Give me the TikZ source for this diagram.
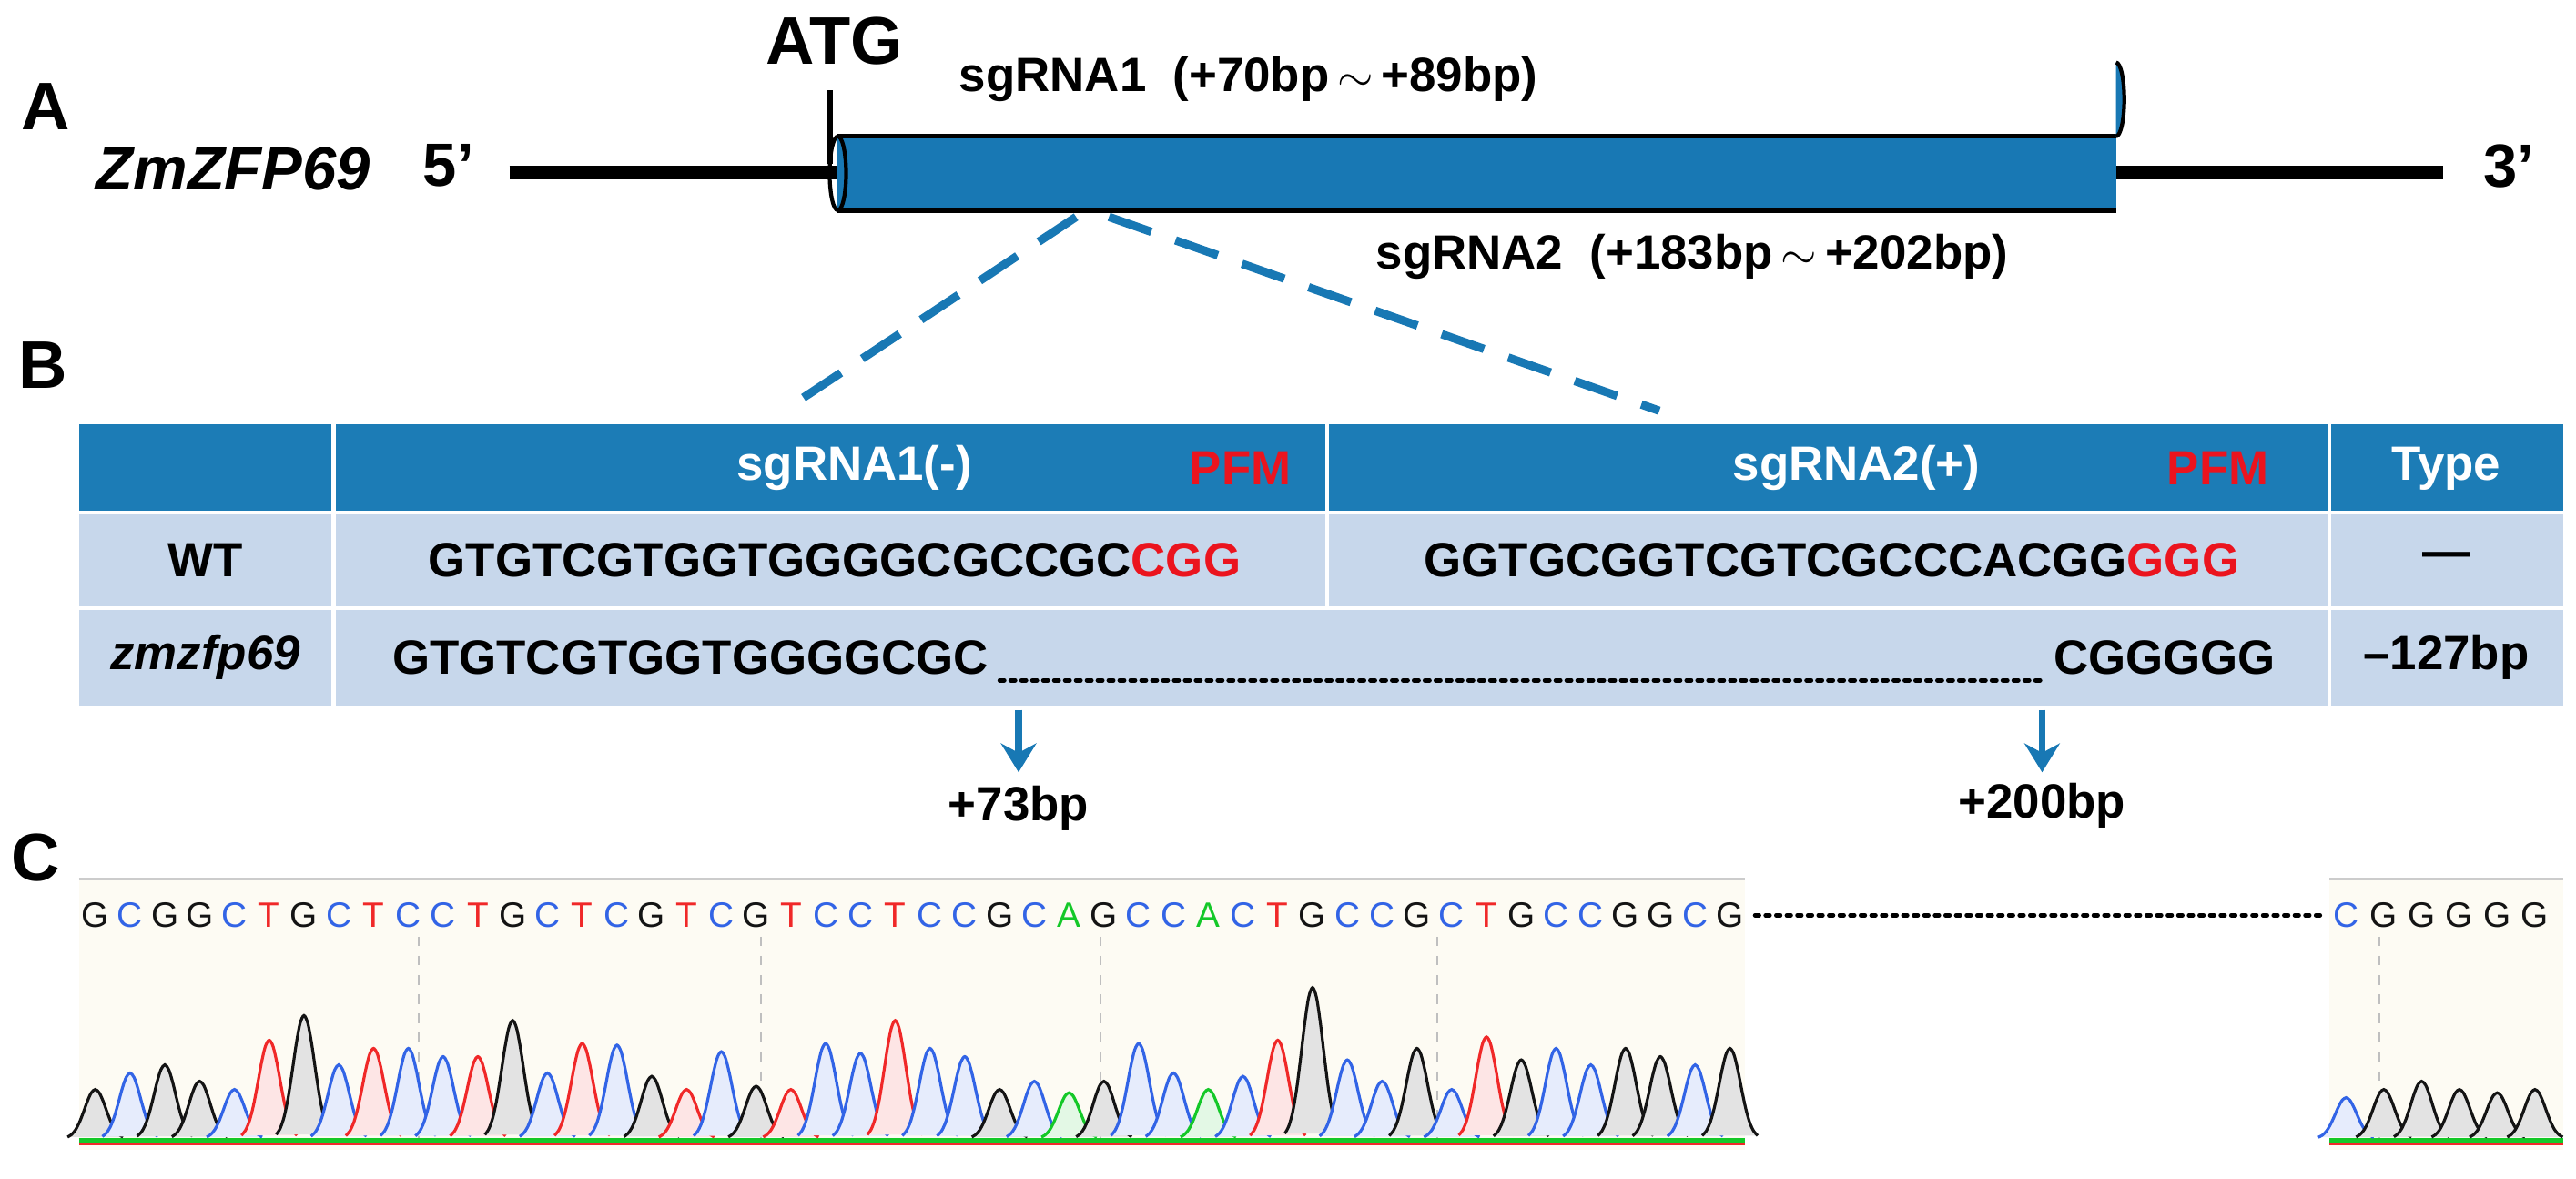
\documentclass[tikz,border=0pt]{standalone}
\usepackage{fontspec}
\usetikzlibrary{arrows.meta}
\setmainfont{Liberation Sans}
\begin{document}
\begin{tikzpicture}[x=0.018cm,y=-0.018cm,
  lbl/.style={font=\fontsize{21}{24}\selectfont\bfseries},
  tx/.style={font=\fontsize{15}{18}\selectfont\bfseries},
  hd/.style={font=\fontsize{15}{18}\selectfont\bfseries,text=white},
  dsh/.style={draw=cblue,line width=2.6pt,dash pattern=on 14pt off 8pt},
  arr/.style={draw=cblue,line width=2.2pt,-{Stealth[length=9pt,width=11pt]}},
  bl/.style={font=\fontsize{11}{12}\selectfont}]
\definecolor{cblue}{RGB}{24,120,180}
\definecolor{hdr}{RGB}{28,124,182}
\definecolor{rowc}{RGB}{199,215,235}
\definecolor{pfm}{RGB}{235,20,30}
\definecolor{cream}{RGB}{253,251,243}
\definecolor{bC}{RGB}{50,100,230}
\definecolor{bT}{RGB}{240,40,40}
\definecolor{bG}{RGB}{20,20,20}
\definecolor{bA}{RGB}{20,200,40}
\useasboundingbox (0,0) rectangle (1568,717.5);
% Panel A
\node[lbl] (A) at (28,65) {A};
\node[lbl,font=\fontsize{19}{22}\selectfont\bfseries\itshape] (gene) at (142,103) {ZmZFP69};
\node[lbl,font=\fontsize{19}{22}\selectfont\bfseries] (p5) at (273,101) {5'};
\node[lbl,font=\fontsize{19}{22}\selectfont\bfseries] (p3) at (1527,101) {3'};
\coordinate (L0) at (310,105); \coordinate (L1) at (1487,105);
\draw[line width=4pt] (L0) -- (L1);
\fill[cblue] (510,83) rectangle (1288,128);
\draw[line width=1.5pt] (510,83) -- (1288,83) (510,128) -- (1288,128);
\draw[line width=1.2pt,fill=cblue] (1288,83) arc[start angle=90,end angle=-90,x radius=5,y radius=22.5];
\draw[line width=1.2pt] (510,105.5) ellipse[x radius=5,y radius=22.5];
\draw[line width=2pt] (505,55) -- (505,100);
\node[lbl] (atg) at (508,25) {ATG};
\node[tx] (s1) at (760,48) {sgRNA1\ \ (+70bp\,$\sim$\,+89bp)};
\node[tx] (s2) at (1030,156) {sgRNA2\ \ (+183bp\,$\sim$\,+202bp)};
\coordinate (d1) at (655,132); \coordinate (d2) at (675,132);
\coordinate (e1) at (480,248); \coordinate (e2) at (1010,250);
\draw[dsh] (d1) -- (e1); \draw[dsh] (d2) -- (e2);
% Panel B
\node[lbl] (B) at (26,222) {B};
\fill[hdr] (48,258) rectangle (1560,312);
\fill[rowc] (48,312) rectangle (1560,430);
\draw[white,line width=1.2pt] (48,312) -- (1560,312) (48,370) -- (1560,370);
\draw[white,line width=1.2pt] (203,258) -- (203,430) (1418,258) -- (1418,430) (808,258) -- (808,370);
\node[hd] (h1) at (520,285) {sgRNA1(-)};
\node[hd,text=pfm] (pf1) at (755,285) {PFM};
\node[hd] (h2) at (1130,285) {sgRNA2(+)};
\node[hd,text=pfm] (pf2) at (1350,285) {PFM};
\node[hd] (h3) at (1489,285) {Type};
\node[tx] (wt) at (125,341) {WT};
\node[tx] (q1) at (508,341) {GTGTCGTGGTGGGGCGCCGC\textcolor{pfm}{CGG}};
\node[tx] (q2) at (1115,341) {GGTGCGGTCGTCGCCCACGG\textcolor{pfm}{GGG}};
\node[tx] (dash) at (1489,341) {---};
\node[tx,font=\fontsize{15}{18}\selectfont\bfseries\itshape] (mu) at (125,400) {zmzfp69};
\node[tx,anchor=west] (q3) at (232,400) {GTGTCGTGGTGGGGCGC};
\node[tx,anchor=east] (q4) at (1392,400) {CGGGGG};
\draw[line width=1.4pt,dotted,line cap=round] ([yshift=-2]q3.base east) -- ([yshift=-2]q4.base west);
\node[tx] (t127) at (1489,400) {--127bp};
\coordinate (a1) at (620,432); \coordinate (a1e) at (620,470);
\coordinate (a2) at (1243,432); \coordinate (a2e) at (1243,470);
\draw[arr] (a1) -- (a1e); \draw[arr] (a2) -- (a2e);
\node[tx] (n73) at (620,492) {+73bp};
\node[tx] (n200) at (1243,490) {+200bp};
% Panel C
\node[lbl] (C) at (22,522) {C};
\fill[cream] (48,535) rectangle (1062,700);
\fill[cream] (1418,535) rectangle (1560,700);
\draw[gray!40,line width=1pt] (48,535) -- (1062,535) (1418,535) -- (1560,535);
\foreach \xx in {255,463,670,875,1448} \draw[gray!50,dashed,line width=0.6pt] (\xx,570) -- (\xx,695);
\draw[bA,line width=1.5pt] (48,694) -- (1062,694) (1418,694) -- (1560,694);
\draw[bT,line width=0.8pt] (48,696) -- (1062,696) (1418,696) -- (1560,696);
\foreach \L/\cc/\h [count=\i from 0] in {G/bG/30,C/bC/40,G/bG/45,G/bG/35,C/bC/30,T/bT/60,G/bG/75,C/bC/45,T/bT/55,C/bC/55,C/bC/50,T/bT/50,G/bG/72,C/bC/40,T/bT/58,C/bC/57,G/bG/38,T/bT/30,C/bC/53,G/bG/32,T/bT/30,C/bC/58,C/bC/52,T/bT/72,C/bC/55,C/bC/50,G/bG/30,C/bC/35,A/bA/28,G/bG/35,C/bC/58,C/bC/40,A/bA/30,C/bC/38,T/bT/60,G/bG/92,C/bC/48,C/bC/35,G/bG/55,C/bC/30,T/bT/62,G/bG/48,C/bC/55,C/bC/45,G/bG/55,G/bG/50,C/bC/45,G/bG/55}{
  \pgfmathsetmacro{\px}{58+\i*21.17}
  \node[bl,text=\cc] (c\i) at (\px,557) {\L};
  \draw[\cc,fill=\cc!12,line width=0.9pt] plot[domain=-2.6:2.6,samples=15,smooth] ({\px+\x*6.5},{693-\h*exp(-\x*\x/2)});
}
\foreach \L/\cc/\h [count=\i from 0] in {C/bC/25,G/bG/30,G/bG/35,G/bG/30,G/bG/28,G/bG/30}{
  \pgfmathsetmacro{\px}{1428+\i*23}
  \node[bl,text=\cc] (r\i) at (\px,557) {\L};
  \draw[\cc,fill=\cc!12,line width=0.9pt] plot[domain=-2.6:2.6,samples=15,smooth] ({\px+\x*6.5},{693-\h*exp(-\x*\x/2)});
}
\draw[line width=1.3pt,dotted,line cap=round] (c47.east) -- (r0.west);
\end{tikzpicture}
\end{document}
